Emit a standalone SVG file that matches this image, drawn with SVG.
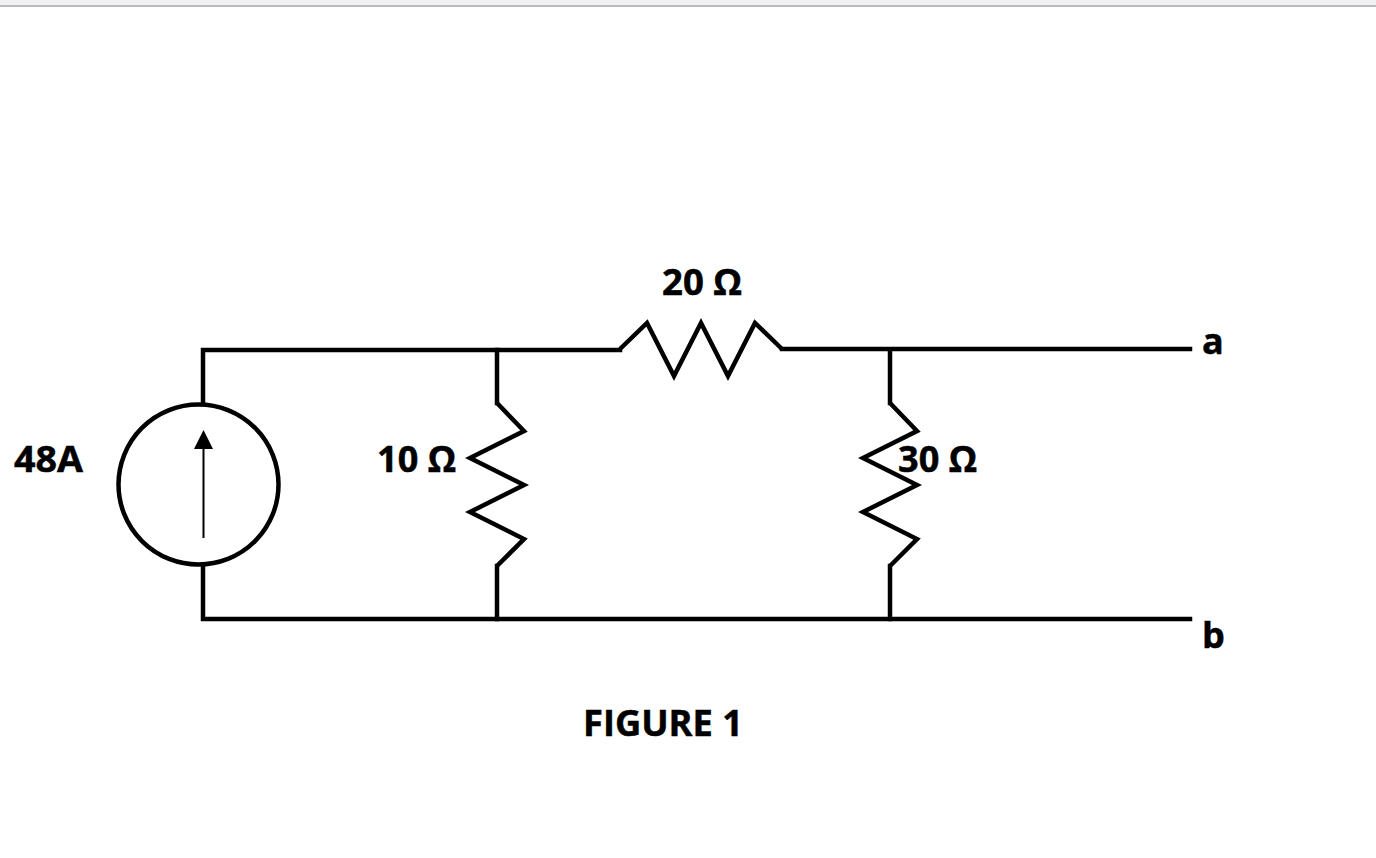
<svg xmlns="http://www.w3.org/2000/svg" width="1376" height="858" viewBox="0 0 1376 858">
<style>
.w{fill:none;stroke:#000;stroke-width:4.500;stroke-linejoin:miter;stroke-miterlimit:3;stroke-linecap:square}
.r{fill:none;stroke:#000;stroke-width:4.500;stroke-linejoin:miter;stroke-miterlimit:3;stroke-linecap:butt}
.t{font-family:"Open Sans","Noto Sans","Liberation Sans",sans-serif;font-weight:700;font-size:36px;fill:#000;stroke:#000;stroke-width:.5}
</style>
<rect width="1376" height="858" fill="#fff"/>
<rect width="1376" height="5" fill="#f1f1f1"/>
<rect y="5" width="1376" height="2" fill="#b8bcc2"/>
<g id="connectors">
<path class="w" d="M203,403V350H620"/>
<path class="w" d="M203,566V619H1190"/>
<path class="w" d="M782,349H1190"/>
<path class="w" d="M497,350V403"/>
<path class="w" d="M497,566V619"/>
<path class="w" d="M890,350V403"/>
<path class="w" d="M890,566V619"/>
</g>
<g id="source"><circle class="r" cx="198.500" cy="484.500" r="80"/><path d="M203.500,538V446" stroke="#000" stroke-width="2" fill="none"/><path d="M203.500,430L213,449H194Z" fill="#000"/></g>
<g id="r10"><path class="r" d="M497,403L524,431L470,458L524,485L470,512L524,539L497,566"/></g>
<g id="r20"><path class="r" d="M620,349L647,323L674,376L701,323L728,376L755,323L782,349"/></g>
<g id="r30"><path class="r" d="M890,403L917,431L863,458L917,485L863,512L917,539L890,566"/></g>
<g id="labels">
<text class="t" x="14" y="472" textLength="69" lengthAdjust="spacingAndGlyphs">48A</text>
<text class="t" x="377" y="472" textLength="79" lengthAdjust="spacingAndGlyphs">10 Ω</text>
<text class="t" x="662" y="295" textLength="80" lengthAdjust="spacingAndGlyphs">20 Ω</text>
<text class="t" x="898" y="472" textLength="79" lengthAdjust="spacingAndGlyphs">30 Ω</text>
<text class="t" x="1202" y="354">a</text>
<text class="t" x="1202" y="648">b</text>
<text class="t" x="583" y="736" textLength="160" lengthAdjust="spacingAndGlyphs">FIGURE 1</text>
</g>
</svg>
